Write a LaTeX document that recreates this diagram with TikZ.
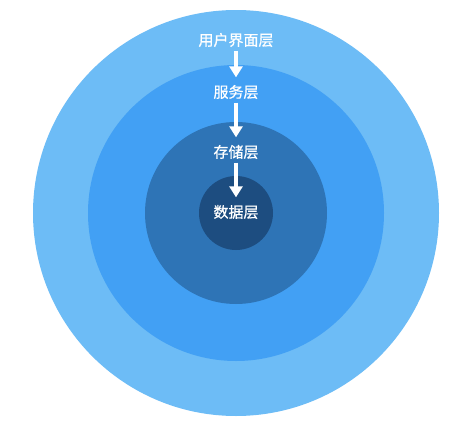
\documentclass[tikz,border=0pt]{standalone}
\usepackage{fontspec}
\newfontfamily\cjk[FakeBold=0.8]{Noto Sans CJK SC}
\usetikzlibrary{arrows.meta}
\definecolor{ringA}{HTML}{6DBCF6}
\definecolor{ringB}{HTML}{42A0F4}
\definecolor{ringC}{HTML}{2E74B6}
\definecolor{ringD}{HTML}{1D4D80}
\tikzset{
	layer/.style={text=white, font=\cjk\fontsize{15}{18}\selectfont, inner sep=3.5pt},
	flow/.style={white, line width=3.5pt, -{Triangle[width=13pt,length=11pt]}, shorten >=4pt}
}

\begin{document}
\begin{tikzpicture}[x=1pt, y=-1pt]
		%%%%% START %%%%%
		
		\fill[white] (0, 0) rectangle (474, 423);
		
		\fill[ringA] (236, 213) circle (203);
		\fill[ringB] (236, 213) circle (148);
		\fill[ringC] (236, 213) circle (91);
		\fill[ringD] (236, 213) circle (37);
		
		\node[layer] (ui) at (236, 40) {用户界面层};
		\node[layer] (svc) at (236, 92) {服务层};
		\node[layer] (store) at (236, 152) {存储层};
		\node[layer] (db) at (236, 212) {数据层};
		
		\draw[flow] (ui) -- (svc);
		\draw[flow] (svc) -- (store);
		\draw[flow] (store) -- (db);
		
		%%%%% END %%%%%
	\end{tikzpicture}
\end{document}
